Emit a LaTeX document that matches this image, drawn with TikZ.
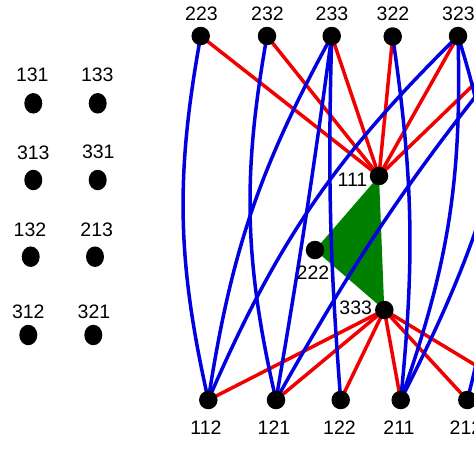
\documentclass[tikz,border=0pt]{standalone}
\usepackage{fontspec}
\setmainfont{Liberation Sans}
\usetikzlibrary{shapes.geometric}
\pgfdeclarelayer{edges}
\pgfsetlayers{edges,main}
\definecolor{ered}{RGB}{240,0,0}
\definecolor{eblue}{RGB}{0,0,225}
\definecolor{tgreen}{RGB}{0,128,0}
\begin{document}
\begin{tikzpicture}[x=1pt,y=-1pt,
  dot/.style={circle,fill=black,inner sep=0pt,minimum size=18.5pt},
  ldot/.style={ellipse,fill=black,inner sep=0pt,minimum width=18pt,minimum height=20.5pt},
  lab/.style={inner sep=0pt,font=\fontsize{19.5}{20}\selectfont},
  redge/.style={draw=ered,line width=3.5pt},
  bedge/.style={draw=eblue,line width=3.5pt}]
\useasboundingbox (0,0) rectangle (474,474);
\clip (0,0) rectangle (474,474);
% isolated vertices
\node[ldot] (n131) at (33.3,103.3) {};  \node[lab] (l131) at (32.3,75) {131};
\node[ldot] (n133) at (97.7,103.3) {};  \node[lab] (l133) at (97.3,75) {133};
\node[ldot] (n313) at (33.3,180) {};    \node[lab] (l313) at (33.3,152.7) {313};
\node[ldot] (n331) at (97.7,180) {};    \node[lab] (l331) at (98.3,151.7) {331};
\node[ldot] (n132) at (30.7,256.7) {};  \node[lab] (l132) at (30,230) {132};
\node[ldot] (n213) at (95,256.7) {};    \node[lab] (l213) at (96.7,230) {213};
\node[ldot] (n312) at (28.3,335) {};    \node[lab] (l312) at (28.3,311.7) {312};
\node[ldot] (n321) at (93.3,335) {};    \node[lab] (l321) at (94,311.7) {321};
% top row
\node[dot] (n223) at (200.7,36) {}; \node[lab] (l223) at (201.5,14) {223};
\node[dot] (n232) at (267,36) {};   \node[lab] (l232) at (267.5,14) {232};
\node[dot] (n233) at (331.7,36) {}; \node[lab] (l233) at (332,14) {233};
\node[dot] (n322) at (392.7,36.5) {}; \node[lab] (l322) at (393,14) {322};
\node[dot] (n323) at (458,36) {};   \node[lab] (l323) at (458.5,14) {323};
\node[dot] (n332) at (524,36) {};   \node[lab] (l332) at (524,14) {332};
% bottom row
\node[dot] (n112) at (208.3,400) {}; \node[lab] (l112) at (206,428) {112};
\node[dot] (n121) at (276,400) {};   \node[lab] (l121) at (274,428) {121};
\node[dot] (n122) at (340.7,400) {}; \node[lab] (l122) at (339.5,428) {122};
\node[dot] (n211) at (400.7,400) {}; \node[lab] (l211) at (399,428) {211};
\node[dot] (n212) at (467.3,400) {}; \node[lab] (l212) at (466,428) {212};
\node[dot] (n221) at (533,400) {};   \node[lab] (l221) at (532,428) {221};
% middle
\node[dot] (n111) at (379,176) {}; \node[lab] (l111) at (352.5,180) {111};
\node[dot] (n222) at (315,250) {}; \node[lab] (l222) at (313,273) {222};
\node[dot] (n333) at (384.3,310) {}; \node[lab] (l333) at (355.7,308) {333};
\begin{pgfonlayer}{edges}
\clip (0,0) rectangle (474,474);
\fill[tgreen] (n111.center) -- (n222.center) -- (n333.center) -- cycle;
\foreach \t in {223,232,233,322,323,332} \draw[redge] (n111.center) -- (n\t.center);
\foreach \b in {112,121,122,211,212,221} \draw[redge] (n333.center) -- (n\b.center);
\draw[bedge] (n223.center) to[bend right=11.5] (n112.center);
\draw[bedge] (n232.center) to[bend right=11.5] (n121.center);
\draw[bedge] (n233.center) to[bend right=10] (n112.center);
\draw[bedge] (n233.center) to[bend left=1] (n121.center);
\draw[bedge] (n233.center) to[bend right=3] (n122.center);
\draw[bedge] (n322.center) to[bend left=7] (n211.center);
\draw[bedge] (n323.center) to[bend right=11] (n112.center);
\draw[bedge] (n323.center) to[bend left=10.5] (n211.center);
\draw[bedge] (n323.center) to[bend left=16] (n212.center);
\draw[bedge] (n332.center) to[bend right=5] (n121.center);
\draw[bedge] (n332.center) to[bend left=8.5] (n211.center);
\draw[bedge] (n332.center) to[bend right=16] (n221.center);
\end{pgfonlayer}
\end{tikzpicture}
\end{document}
